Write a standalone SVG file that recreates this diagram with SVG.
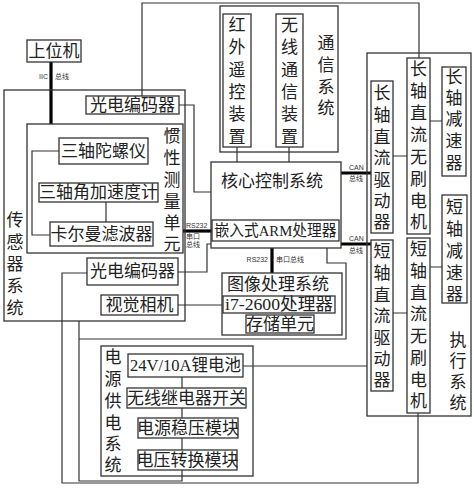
<svg xmlns="http://www.w3.org/2000/svg" width="474" height="488" viewBox="0 0 474 488">
<style>
.b{fill:#fff;stroke:#333;stroke-width:1.3}
.o{fill:none;stroke:#333;stroke-width:1.3}
.l{fill:none;stroke:#333;stroke-width:1.2}
.k{fill:none;stroke:#000;stroke-width:3.2}
text{font-family:"Liberation Serif","Noto Sans CJK SC",serif;fill:#222}
.t{font-size:17px;text-anchor:middle;dominant-baseline:central}
.v{font-size:17px;text-anchor:middle;dominant-baseline:central;fill:#222}
.s{font-size:7px;font-family:"Liberation Sans","Noto Sans CJK SC",sans-serif;fill:#333}
</style>
<rect width="474" height="488" fill="#fff"/>

<g id="connectors">
<path class="l" d="M142,96V3H419V58"/>
<path class="l" d="M179,105H194V192H211"/>
<path class="l" d="M59,151H32V235H50"/>
<path class="l" d="M106,202V222"/>
<path class="l" d="M178,272H207V244H211"/>
<path class="l" d="M178,305H222"/>
<path class="l" d="M87,273H62V483H418V413"/>
<path class="l" d="M79,321V481H182V470"/>
<path class="l" d="M79,339H346V263H327V248"/>
<path class="l" d="M182,377V388M182,408V418M182,438V450"/>
<path class="l" d="M243,366H367"/>
<path class="l" d="M237,147V162M289,147V162"/>
<path class="l" d="M393,156H407M430,121H442M393,313H407M430,267H442"/>
<path class="k" d="M51,62V124"/>
<path class="k" d="M183,231H212"/>
<path class="k" d="M272,248V273"/>
<path class="k" d="M341,173H371M341,244H371"/>
<text class="s" x="48" y="79" text-anchor="end">IIC</text>
<text class="s" x="55" y="79">总线</text>
<text class="s" x="186" y="228">RS232</text>
<text class="s" x="186" y="239">串口</text>
<text class="s" x="186" y="247">总线</text>
<text class="s" x="268" y="262" text-anchor="end">RS232</text>
<text class="s" x="276" y="262">串口总线</text>
<text class="s" x="349" y="170">CAN</text>
<text class="s" x="349" y="181">总线</text>
<text class="s" x="349" y="241">CAN</text>
<text class="s" x="349" y="253">总线</text>
</g>

<g id="upper-computer">
<rect class="b" x="27" y="40" width="54" height="22"/>
<text class="t" x="54" y="51">上位机</text>
</g>

<g id="sensor-system">
<rect class="o" x="4" y="90" width="181" height="231"/>
<text class="v"><tspan x="15" y="220">传</tspan><tspan x="15" y="242">感</tspan><tspan x="15" y="264">器</tspan><tspan x="15" y="286">系</tspan><tspan x="15" y="308">统</tspan></text>
</g>

<g id="encoder-1">
<rect class="b" x="86" y="96" width="93" height="18"/>
<text class="t" x="132.5" y="105">光电编码器</text>
</g>

<g id="imu">
<rect class="o" x="27" y="124" width="156" height="129"/>
<text class="v" fill="#222"><tspan x="172" y="136">惯</tspan><tspan x="172" y="158">性</tspan><tspan x="172" y="180">测</tspan><tspan x="172" y="202">量</tspan><tspan x="172" y="223">单</tspan><tspan x="172" y="244">元</tspan></text>
</g>

<g id="gyro">
<rect class="b" x="59" y="138" width="89" height="26"/>
<text class="t" x="103.5" y="151">三轴陀螺仪</text>
</g>

<g id="accel">
<rect class="b" x="39" y="183" width="119" height="19"/>
<text class="t" x="98.5" y="192.5">三轴角加速度计</text>
</g>

<g id="kalman">
<rect class="b" x="50" y="222" width="103" height="24"/>
<text class="t" x="101.5" y="234">卡尔曼滤波器</text>
</g>

<g id="encoder-2">
<rect class="b" x="87" y="258" width="91" height="27"/>
<text class="t" x="132.5" y="271.5">光电编码器</text>
</g>

<g id="camera">
<rect class="b" x="101" y="295" width="77" height="20"/>
<text class="t" x="139.5" y="305">视觉相机</text>
</g>

<g id="comm-system">
<rect class="o" x="220" y="6" width="118" height="146"/>
<text class="v"><tspan x="326" y="43">通</tspan><tspan x="326" y="65">信</tspan><tspan x="326" y="87">系</tspan><tspan x="326" y="108">统</tspan></text>
</g>

<g id="ir-remote">
<rect class="b" x="223" y="14" width="28" height="133"/>
<text class="v"><tspan x="237" y="25">红</tspan><tspan x="237" y="47">外</tspan><tspan x="237" y="70">遥</tspan><tspan x="237" y="92">控</tspan><tspan x="237" y="114">装</tspan><tspan x="237" y="137">置</tspan></text>
</g>

<g id="wireless">
<rect class="b" x="276" y="14" width="27" height="133"/>
<text class="v"><tspan x="289.5" y="25">无</tspan><tspan x="289.5" y="47">线</tspan><tspan x="289.5" y="70">通</tspan><tspan x="289.5" y="92">信</tspan><tspan x="289.5" y="114">装</tspan><tspan x="289.5" y="137">置</tspan></text>
</g>

<g id="core">
<rect class="o" x="211" y="162" width="130" height="86"/>
<text class="t" x="272" y="181">核心控制系统</text>
</g>

<g id="arm">
<rect class="b" x="212" y="220" width="127" height="21"/>
<text class="t" x="275.5" y="230.5" style="font-size:15.5px" textLength="122" lengthAdjust="spacingAndGlyphs">嵌入式ARM处理器</text>
</g>

<g id="image-system">
<rect class="o" x="222" y="273" width="120" height="62"/>
<text class="t" x="278" y="284">图像处理系统</text>
</g>

<g id="i7">
<rect class="b" x="223" y="296" width="112" height="17"/>
<text class="t" x="279" y="304.5" textLength="108" lengthAdjust="spacingAndGlyphs">i7-2600处理器</text>
</g>

<g id="storage">
<rect class="b" x="246" y="315" width="68" height="18"/>
<text class="t" x="280" y="324">存储单元</text>
</g>

<g id="power-system">
<rect class="o" x="101" y="346" width="152" height="130"/>
<text class="v"><tspan x="113" y="357">电</tspan><tspan x="113" y="379">源</tspan><tspan x="113" y="401">供</tspan><tspan x="113" y="423">电</tspan><tspan x="113" y="444">系</tspan><tspan x="113" y="465">统</tspan></text>
</g>

<g id="battery">
<rect class="b" x="128" y="354" width="115" height="23"/>
<text class="t" x="185.5" y="365.5" textLength="111" lengthAdjust="spacingAndGlyphs">24V/10A锂电池</text>
</g>

<g id="relay">
<rect class="b" x="127" y="388" width="119" height="20"/>
<text class="t" x="186.5" y="398">无线继电器开关</text>
</g>

<g id="regulator">
<rect class="b" x="138" y="418" width="100" height="20"/>
<text class="t" x="188" y="428">电源稳压模块</text>
</g>

<g id="converter">
<rect class="b" x="138" y="450" width="99" height="20"/>
<text class="t" x="187.5" y="460">电压转换模块</text>
</g>

<g id="exec-system">
<rect class="o" x="367" y="53" width="104" height="363"/>
<text class="v"><tspan x="458" y="340">执</tspan><tspan x="458" y="361">行</tspan><tspan x="458" y="382">系</tspan><tspan x="458" y="403">统</tspan></text>
</g>

<g id="long-driver">
<rect class="b" x="371" y="81" width="22" height="152"/>
<text class="v"><tspan x="382" y="93">长</tspan><tspan x="382" y="115">轴</tspan><tspan x="382" y="137">直</tspan><tspan x="382" y="158">流</tspan><tspan x="382" y="180">驱</tspan><tspan x="382" y="201">动</tspan><tspan x="382" y="222">器</tspan></text>
</g>

<g id="long-motor">
<rect class="b" x="407" y="58" width="23" height="176"/>
<text class="v"><tspan x="418.5" y="69">长</tspan><tspan x="418.5" y="91">轴</tspan><tspan x="418.5" y="113">直</tspan><tspan x="418.5" y="135">流</tspan><tspan x="418.5" y="157">无</tspan><tspan x="418.5" y="179">刷</tspan><tspan x="418.5" y="201">电</tspan><tspan x="418.5" y="222">机</tspan></text>
</g>

<g id="long-reducer">
<rect class="b" x="442" y="67" width="24" height="109"/>
<text class="v"><tspan x="454" y="77">长</tspan><tspan x="454" y="98">轴</tspan><tspan x="454" y="119">减</tspan><tspan x="454" y="141">速</tspan><tspan x="454" y="163">器</tspan></text>
</g>

<g id="short-driver">
<rect class="b" x="371" y="240" width="22" height="151"/>
<text class="v"><tspan x="382" y="251">短</tspan><tspan x="382" y="273">轴</tspan><tspan x="382" y="295">直</tspan><tspan x="382" y="316">流</tspan><tspan x="382" y="338">驱</tspan><tspan x="382" y="359">动</tspan><tspan x="382" y="380">器</tspan></text>
</g>

<g id="short-motor">
<rect class="b" x="407" y="238" width="23" height="175"/>
<text class="v"><tspan x="418.5" y="249">短</tspan><tspan x="418.5" y="271">轴</tspan><tspan x="418.5" y="293">直</tspan><tspan x="418.5" y="314">流</tspan><tspan x="418.5" y="336">无</tspan><tspan x="418.5" y="358">刷</tspan><tspan x="418.5" y="380">电</tspan><tspan x="418.5" y="401">机</tspan></text>
</g>

<g id="short-reducer">
<rect class="b" x="442" y="195" width="25" height="108"/>
<text class="v"><tspan x="454.5" y="207">短</tspan><tspan x="454.5" y="229">轴</tspan><tspan x="454.5" y="251">减</tspan><tspan x="454.5" y="273">速</tspan><tspan x="454.5" y="294">器</tspan></text>
</g>
</svg>
